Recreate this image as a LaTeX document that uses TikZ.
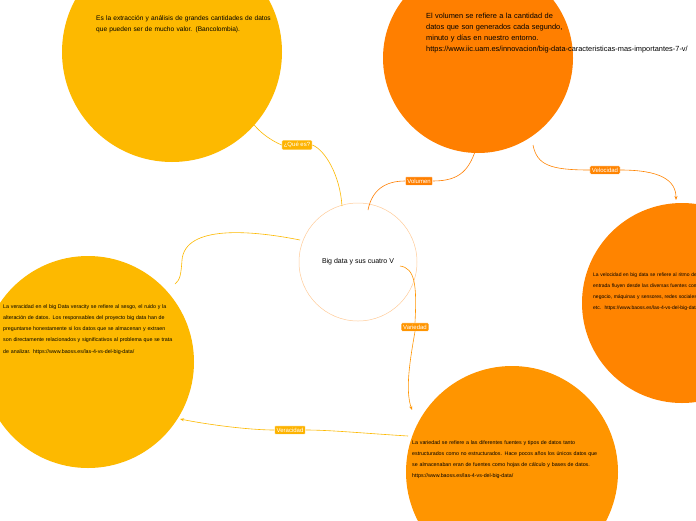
\documentclass[tikz,border=0pt]{standalone}
\usepackage{fontspec}
\setmainfont{Liberation Sans}
\usetikzlibrary{arrows.meta}
\hyphenpenalty=10000
\exhyphenpenalty=10000
\definecolor{yel}{HTML}{FDB900}
\definecolor{orA}{HTML}{FF7F00}
\definecolor{orB}{HTML}{FF8400}
\definecolor{orC}{HTML}{FF9500}
\tikzset{
 bub/.style={circle,inner sep=0pt},
 txt/.style={align=left,anchor=north west,inner sep=0pt,text=black},
 lab/.style={font=\fontsize{6}{7}\selectfont,text=white,inner sep=2pt,rounded corners=1pt,draw=white,line width=0.4pt},
 con/.style={line width=0.6pt},
 arr/.style={con,-{Stealth[length=4pt,width=3pt]}}
}
\begin{document}
\begin{tikzpicture}[x=1pt,y=-1pt]
\useasboundingbox (0,0) rectangle (696,520);
\clip (0,0) rectangle (696,520);
\fill[white] (0,0) rectangle (696,520);
% bubbles
\node[bub,fill=yel,minimum size=220pt] (que) at (172,52) {};
\node[bub,fill=orA,minimum size=190pt] (vol) at (478,58) {};
\node[bub,fill=orB,minimum size=200pt] (vel) at (682,303) {};
\node[bub,fill=yel,minimum size=212pt] (ver) at (88,362) {};
\node[bub,fill=orC,minimum size=212pt] (var) at (512,472) {};
\node[bub,draw=orange!40,fill=white,minimum size=118pt,line width=0.5pt] (c) at (358,262) {};
\node[font=\fontsize{7}{8}\selectfont] at (c) {Big data y sus cuatro V};
% texts
\node[txt,text width=180pt,font=\fontsize{6.6}{11}\selectfont] at (96,15) {Es la extracción y análisis de grandes cantidades de datos que pueden ser de mucho valor. (Bancolombia).};
\node[txt,text width=168pt,font=\fontsize{7.4}{11}\selectfont] at (426,13) {El volumen se refiere a la cantidad de datos que son generados cada segundo, minuto y días en nuestro entorno. https://www.iic.uam.es/innovacion/big-data-caracteristicas-mas-importantes-7-v/};
\node[txt,text width=300pt,font=\fontsize{5}{11}\selectfont] at (593,273) {La velocidad en big data se refiere al ritmo de los datos de\\ entrada fluyen desde las diversas fuentes como procesos de\\ negocio, máquinas y sensores, redes sociales, dispositivos,\\ etc.\ \ https://www.baoss.es/las-4-vs-del-big-data/};
\node[txt,text width=172pt,font=\fontsize{5.3}{11.3}\selectfont] at (3,304) {La veracidad en el big Data veracity se refiere al sesgo, el ruido y la alteración de datos. Los responsables del proyecto big data han de preguntarse honestamente si los datos que se almacenan y extraen son directamente relacionados y significativos al problema que se trata de analizar. https://www.baoss.es/las-4-vs-del-big-data/};
\node[txt,text width=186pt,font=\fontsize{5.3}{11.3}\selectfont] at (412,440) {La variedad se refiere a las diferentes fuentes y tipos de datos tanto estructurados como no estructurados. Hace pocos años los únicos datos que se almacenaban eran de fuentes como hojas de cálculo y bases de datos. https://www.baoss.es/las-4-vs-del-big-data/};
% labels
\node[lab,fill=yel!90!orange] (lq) at (297,145) {¿Qué es?};
\node[lab,fill=orA] (lvo) at (419,181) {Volumen};
\node[lab,fill=orB] (lve) at (605,170) {Velocidad};
\node[lab,fill=orC] (lva) at (415,327) {Variedad};
\node[lab,fill=yel!90!orange] (lvr) at (290,430) {Veracidad};
% connectors
\draw[con,yel] (342,206) .. controls (340,175) and (325,150) .. (lq.east);
\draw[arr,yel] (lq.west) .. controls (270,140) and (255,130) .. (246,112);
\draw[con,orA] (368,210) .. controls (372,190) and (385,181) .. (lvo.west);
\draw[arr,orA] (lvo.east) .. controls (460,181) and (470,170) .. (478,142);
\draw[con,orB] (533,145) .. controls (537,165) and (550,170) .. (lve.west);
\draw[arr,orB] (lve.east) .. controls (660,170) and (676,180) .. (676,200);
\draw[con,orC] (400,266) .. controls (415,268) and (417,285) .. (lva.north);
\draw[arr,orC] (lva.south) .. controls (410,360) and (405,390) .. (412,410);
\draw[con,yel] (408,436) .. controls (360,433) and (330,430) .. (lvr.east);
\draw[arr,yel] (lvr.west) .. controls (250,430) and (210,425) .. (180,419);
\draw[con,yel] (300,240) .. controls (250,230) and (185,225) .. (182,260) .. controls (181,275) and (180,280) .. (175,284);
\end{tikzpicture}
\end{document}
